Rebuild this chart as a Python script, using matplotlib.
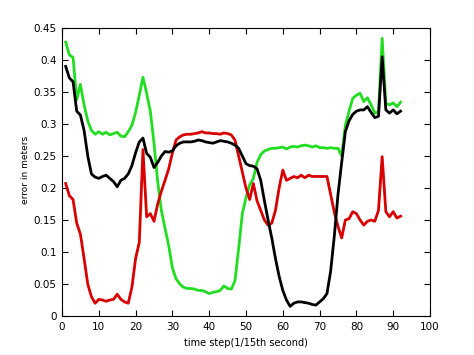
import matplotlib
matplotlib.use("Agg")
import matplotlib.pyplot as plt
import numpy as np

steps = list(range(1, 93))

black = [0.390, 0.372, 0.366, 0.320, 0.314, 0.290, 0.250, 0.222, 0.217, 0.215,
         0.218, 0.220, 0.215, 0.210, 0.202, 0.212, 0.215, 0.222, 0.235, 0.255,
         0.272, 0.278, 0.254, 0.248, 0.232, 0.240, 0.250, 0.257, 0.256, 0.258,
         0.266, 0.270, 0.272, 0.272, 0.272, 0.273, 0.275, 0.274, 0.272, 0.271,
         0.270, 0.272, 0.274, 0.273, 0.272, 0.270, 0.267, 0.262, 0.250, 0.238,
         0.235, 0.234, 0.230, 0.212, 0.180, 0.150, 0.122, 0.090, 0.062, 0.040,
         0.025, 0.015, 0.020, 0.022, 0.022, 0.021, 0.020, 0.018, 0.017, 0.022,
         0.027, 0.035, 0.070, 0.125, 0.190, 0.240, 0.288, 0.305, 0.315, 0.320,
         0.322, 0.322, 0.327, 0.318, 0.310, 0.312, 0.405, 0.322, 0.317, 0.322,
         0.316, 0.320]

green = [0.428, 0.408, 0.404, 0.338, 0.362, 0.330, 0.305, 0.290, 0.284, 0.288,
         0.284, 0.287, 0.283, 0.285, 0.287, 0.281, 0.280, 0.288, 0.298, 0.318,
         0.345, 0.373, 0.348, 0.320, 0.270, 0.210, 0.165, 0.137, 0.110, 0.075,
         0.058, 0.050, 0.045, 0.043, 0.043, 0.042, 0.040, 0.040, 0.038, 0.035,
         0.037, 0.038, 0.040, 0.047, 0.043, 0.042, 0.055, 0.105, 0.160, 0.185,
         0.205, 0.215, 0.240, 0.252, 0.258, 0.260, 0.262, 0.262, 0.263, 0.264,
         0.261, 0.264, 0.265, 0.264, 0.266, 0.267, 0.266, 0.264, 0.266, 0.263,
         0.263, 0.262, 0.263, 0.262, 0.262, 0.250, 0.298, 0.320, 0.340, 0.345,
         0.348, 0.335, 0.341, 0.330, 0.317, 0.319, 0.434, 0.332, 0.330, 0.333,
         0.327, 0.334]

red = [0.207, 0.188, 0.182, 0.145, 0.128, 0.090, 0.050, 0.030, 0.020, 0.026,
       0.025, 0.023, 0.025, 0.026, 0.034, 0.026, 0.022, 0.020, 0.045, 0.090,
       0.115, 0.260, 0.155, 0.160, 0.148, 0.175, 0.195, 0.212, 0.230, 0.255,
       0.275, 0.280, 0.283, 0.284, 0.284, 0.285, 0.286, 0.288, 0.286, 0.286,
       0.285, 0.285, 0.284, 0.286, 0.285, 0.283, 0.275, 0.250, 0.225, 0.200,
       0.182, 0.207, 0.180, 0.165, 0.150, 0.142, 0.145, 0.165, 0.200, 0.228,
       0.212, 0.215, 0.218, 0.216, 0.220, 0.216, 0.220, 0.218, 0.218, 0.218,
       0.218, 0.218, 0.190, 0.162, 0.140, 0.122, 0.150, 0.152, 0.163, 0.160,
       0.150, 0.142, 0.148, 0.150, 0.148, 0.165, 0.249, 0.163, 0.155, 0.163,
       0.153, 0.156]

xticks = [0, 10, 20, 30, 40, 50, 60, 70, 80, 90, 100]
yticks = [0, 0.05, 0.1, 0.15, 0.2, 0.25, 0.3, 0.35, 0.4, 0.45]
ytick_labels = ["0", "0.05", "0.1", "0.15", "0.2", "0.25", "0.3", "0.35", "0.4", "0.45"]

fig = plt.figure(figsize=(4.74, 3.55), dpi=100)
ax = fig.add_axes([62/474, 1 - 316/355, (430-62)/474, (316-28)/355])

lw = 2.0
ax.plot(steps, green, color="#22dd22", lw=lw)
ax.plot(steps, red, color="#d90000", lw=lw)
ax.plot(steps, black, color="black", lw=lw)

ax.set_xlim(0, 100)
ax.set_ylim(0, 0.45)
ax.set_xticks(xticks)
ax.set_yticks(yticks)
ax.set_yticklabels(ytick_labels)
ax.tick_params(direction="in", length=4, width=0.8, labelsize=7.5,
               top=True, right=True, pad=4)
for s in ax.spines.values():
    s.set_linewidth(0.8)

ax.set_xlabel("time step(1/15th second)", fontsize=7, labelpad=5)
fig.text(25/474, 1 - 170/355, "error in meters", rotation=90, fontsize=6.5,
         ha="center", va="center")

fig.savefig("out.png", dpi=100)
